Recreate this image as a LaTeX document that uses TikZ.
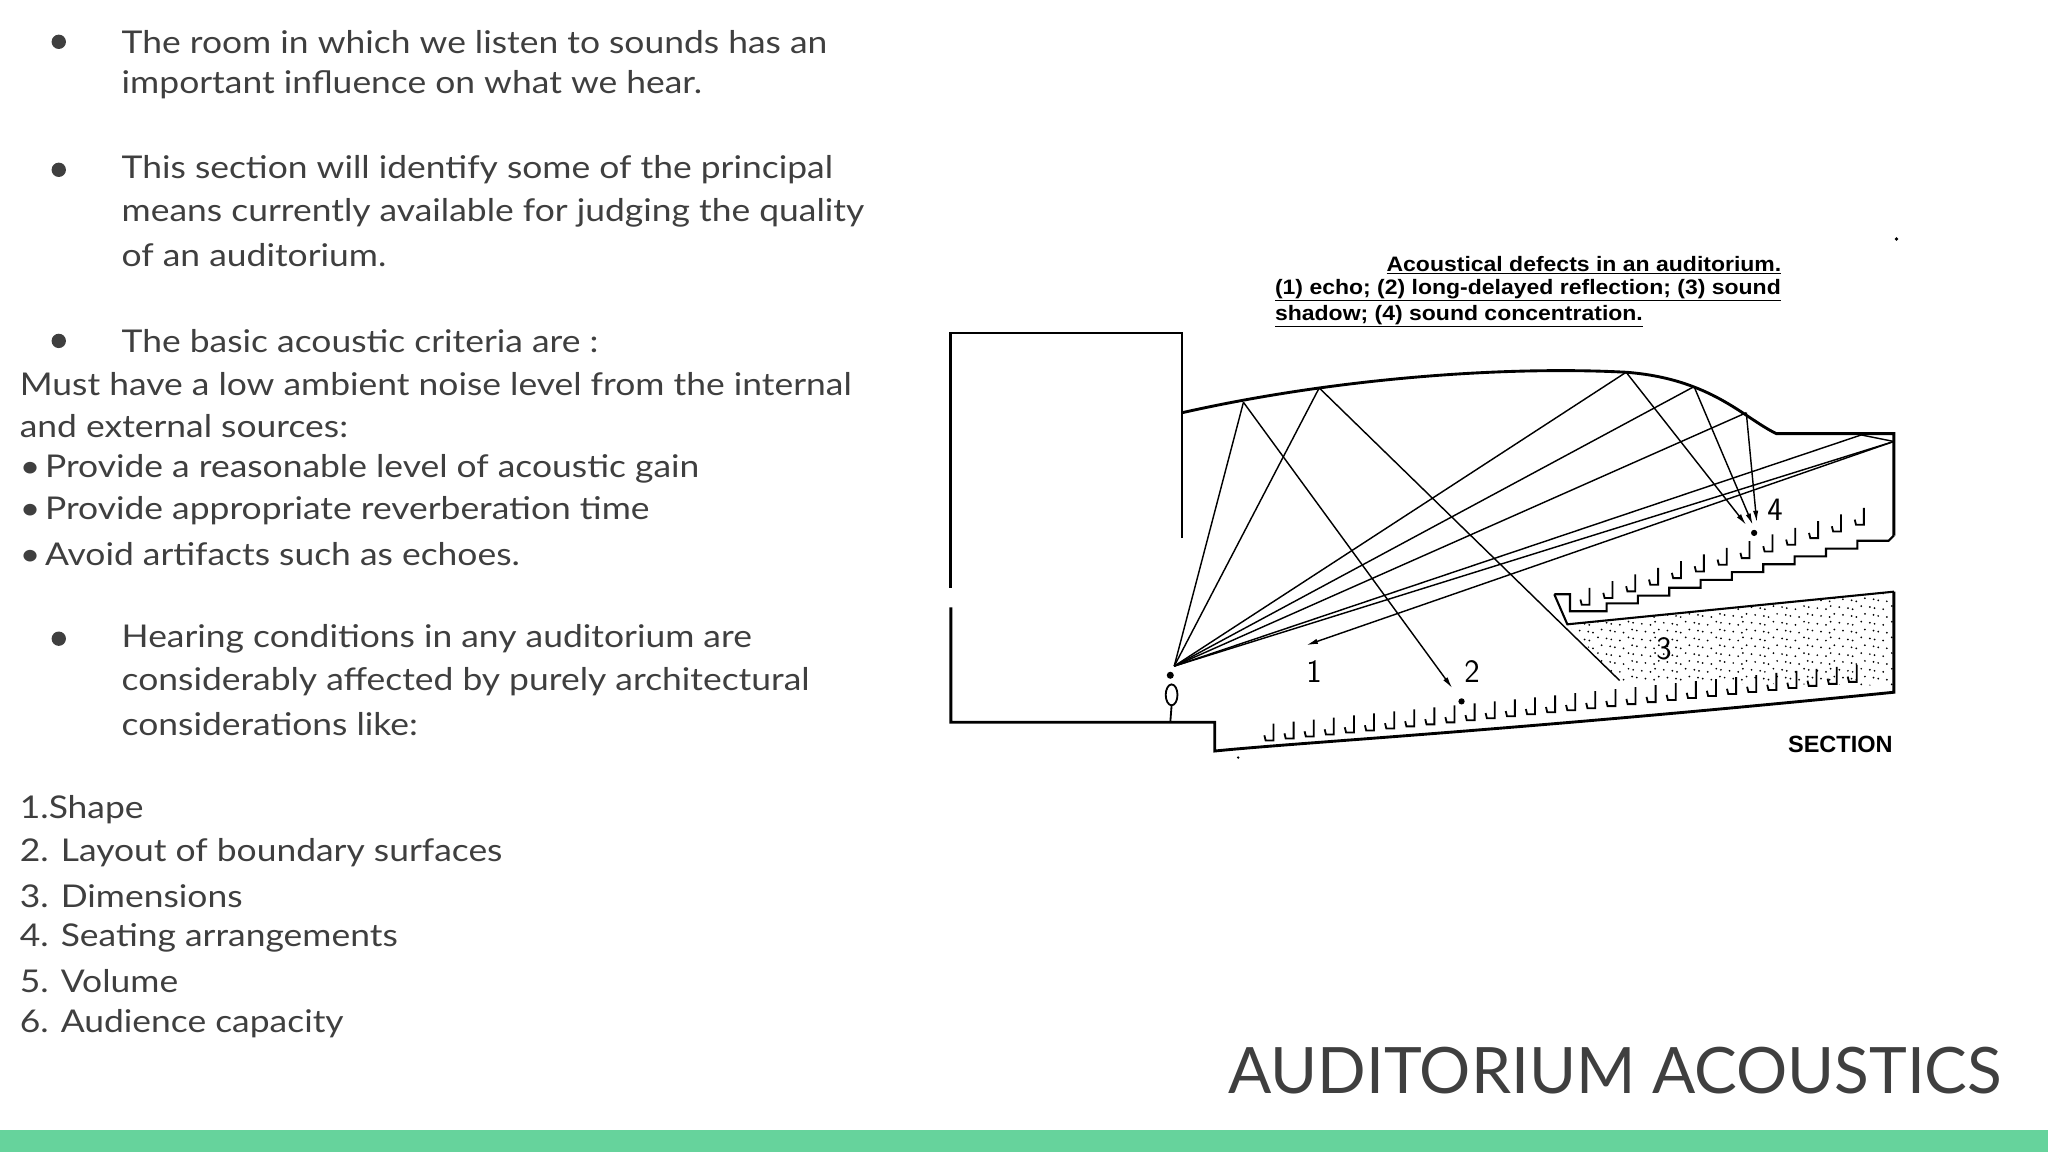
\documentclass[tikz,border=0pt]{standalone}
\usepackage{fontspec}
\usetikzlibrary{arrows.meta}
\setmainfont{Lato}
\newfontfamily\bodyfont{Lato}[FakeStretch=1.13]
\newfontfamily\capfont{Liberation Sans}
\definecolor{txt}{HTML}{3F3F3F}
\definecolor{barg}{HTML}{66D39C}
\begin{document}
\begin{tikzpicture}[x=1pt,y=-1pt,
  body/.style={anchor=west,inner sep=0pt,text=txt,font=\bodyfont\fontsize{24}{29}\selectfont},
  bul/.style={fill=txt,draw=none},
  wall/.style={line width=2.2pt,line join=miter},
  ray/.style={line width=1.1pt},
  arr/.style={ray,-{Latex[length=9pt,width=4pt]}},
  num/.style={inner sep=0pt,font=\fontsize{25}{25}\selectfont\sffamily},
  seat/.style={line width=1.4pt}]
\useasboundingbox (0,0) rectangle (1568,882);
\fill[barg] (0,865) rectangle (1568,882);
% ---- left text
\foreach \y in {32,130,261,489} \fill[bul] (45,\y) circle (5.5);
\node[body] (t1) at (93,32) {The room in which we listen to sounds has an};
\node[body] (t2) at (93,65) {important influence on what we hear.};
\node[body] (t3) at (93,130) {This section will identify some of the principal};
\node[body] (t4) at (93,163) {means currently available for judging the quality};
\node[body] (t5) at (93,195) {of an auditorium.};
\node[body] (t6) at (93,261) {The basic acoustic criteria are :};
\node[body] (t7) at (15,294) {Must have a low ambient noise level from the internal};
\node[body] (t8) at (15,326) {and external sources:};
\node[body] (t9) at (15,359) {•\hspace{0.15em}Provide a reasonable level of acoustic gain};
\node[body] (t10) at (15,391) {•\hspace{0.15em}Provide appropriate reverberation time};
\node[body] (t11) at (15,424) {•\hspace{0.15em}Avoid artifacts such as echoes.};
\node[body] (t12) at (93,489) {Hearing conditions in any auditorium are};
\node[body] (t13) at (93,522) {considerably affected by purely architectural};
\node[body] (t14) at (93,554) {considerations like:};
\node[body] (l1) at (15,620) {1.Shape};
\node[body] (l2) at (15,653) {2. Layout of boundary surfaces};
\node[body] (l3) at (15,686) {3. Dimensions};
\node[body] (l4) at (15,718) {4. Seating arrangements};
\node[body] (l5) at (15,751) {5. Volume};
\node[body] (l6) at (15,784) {6. Audience capacity};
\node[anchor=east,inner sep=0pt,text=txt,font=\fontsize{49}{49}\selectfont] (title) at (1533,820) {AUDITORIUM ACOUSTICS};
% ---- caption
\begin{scope}[every node/.style={inner sep=0pt,font=\capfont\bfseries\fontsize{16}{16}\selectfont}]
\node[anchor=east] (c1) at (1364,203) {\scalebox{1.1}[1]{\underline{Acoustical defects in an auditorium.}}};
\node[anchor=west] (c2) at (976,222) {\scalebox{1.1}[1]{\underline{(1) echo; (2) long-delayed reflection; (3) sound}}};
\node[anchor=west] (c3) at (976,242) {\scalebox{1.1}[1]{\underline{shadow; (4) sound concentration.}}};
\end{scope}
% ---- walls
\draw[wall] (905,412) -- (905,255) -- (728,255) -- (728,450);
\draw[wall] (728,465) -- (728,553) -- (930,553) -- (930,575)
  .. controls (1000,568) and (1150,560) .. (1450,530) -- (1450,453);
\draw[wall] (905,316) .. controls (1020,290) and (1150,280) .. (1245,285)
  .. controls (1310,290) and (1335,320) .. (1360,332) -- (1450,332) -- (1450,410);
% balcony
\draw[line width=1.6pt] (1190,455) -- (1200,478) -- (1450,453);
\draw[line width=1.6pt] (1190,455) -- (1202,455) -- (1202,468) -- (1230,468)
  \foreach \i in {1,...,9} { -- ++(0,-6) -- ++(24,0) } -- (1450,410);
% shadow stipple
\begin{scope}
\clip (1200,478) -- (1450,453) -- (1450,525) -- (1240,522) -- cycle;
\foreach \i in {0,...,45} \foreach \j in {0,...,12}
  \fill ({1200+\i*5.6+mod(\j,2)*2.8+mod(\i*7+\j*3,3)},{452+\j*6+mod(\i*5,4)*0.8}) circle (0.75);
\end{scope}
% seats
\foreach \i in {0,...,29} {
  \pgfmathsetmacro{\sx}{972+\i*15.4}
  \pgfmathsetmacro{\sy}{567-\i*1.55}
  \draw[seat] (\sx+3,\sy-13) -- (\sx+3,\sy) -- (\sx-3,\sy) -- (\sx-4,\sy-4);}
\foreach \i in {0,...,12} {
  \pgfmathsetmacro{\sx}{1214+\i*17.5}
  \pgfmathsetmacro{\sy}{463-\i*5.1}
  \draw[seat] (\sx+3,\sy-13) -- (\sx+3,\sy) -- (\sx-3,\sy) -- (\sx-4,\sy-4);}
% source person
\fill (896,517) circle (2.7);
\draw[line width=1.4pt] (897,532) ellipse (4.5 and 8);
\draw[line width=1.4pt] (897,540) -- (896,553);
% listeners
\fill (1119,537) circle (2.4);
\fill (1343,408) circle (2.4);
% ray points
\coordinate (S) at (899,510);
\coordinate (A) at (952,308);
\coordinate (B) at (1010,297);
\coordinate (C) at (1245,285);
\coordinate (D) at (1297,296);
\coordinate (E) at (1337,316);
\coordinate (F) at (1425,333);
\coordinate (G) at (1450,338);
\coordinate (R2) at (1112,527);
\coordinate (R3) at (1240,521);
\coordinate (R4a) at (1337,402);
\coordinate (R4b) at (1342,402);
\coordinate (R4c) at (1345,400);
\coordinate (R1) at (1000,494);
\draw[ray] (S) -- (A); \draw[arr] (A) -- (R2);
\draw[ray] (S) -- (B) -- (R3);
\draw[ray] (S) -- (C); \draw[arr] (C) -- (R4a);
\draw[ray] (S) -- (D); \draw[arr] (D) -- (R4b);
\draw[ray] (S) -- (E); \draw[arr] (E) -- (R4c);
\draw[ray] (S) -- (F) -- (G);
\draw[arr] (G) -- (R1);
\draw[ray] (S) -- (G);
% numbers
\node[num] (n1) at (1006,514) {1};
\node[num] (n2) at (1127,514) {2};
\node[num] (n3) at (1274,497) {3};
\node[num] (n4) at (1359,390) {4};
\node[inner sep=0pt,font=\capfont\bfseries\fontsize{18}{18}\selectfont] (sec) at (1409,570) {SECTION};
\fill (1452,183) circle (1.5);
\fill (948,580) circle (1);
\end{tikzpicture}
\end{document}
